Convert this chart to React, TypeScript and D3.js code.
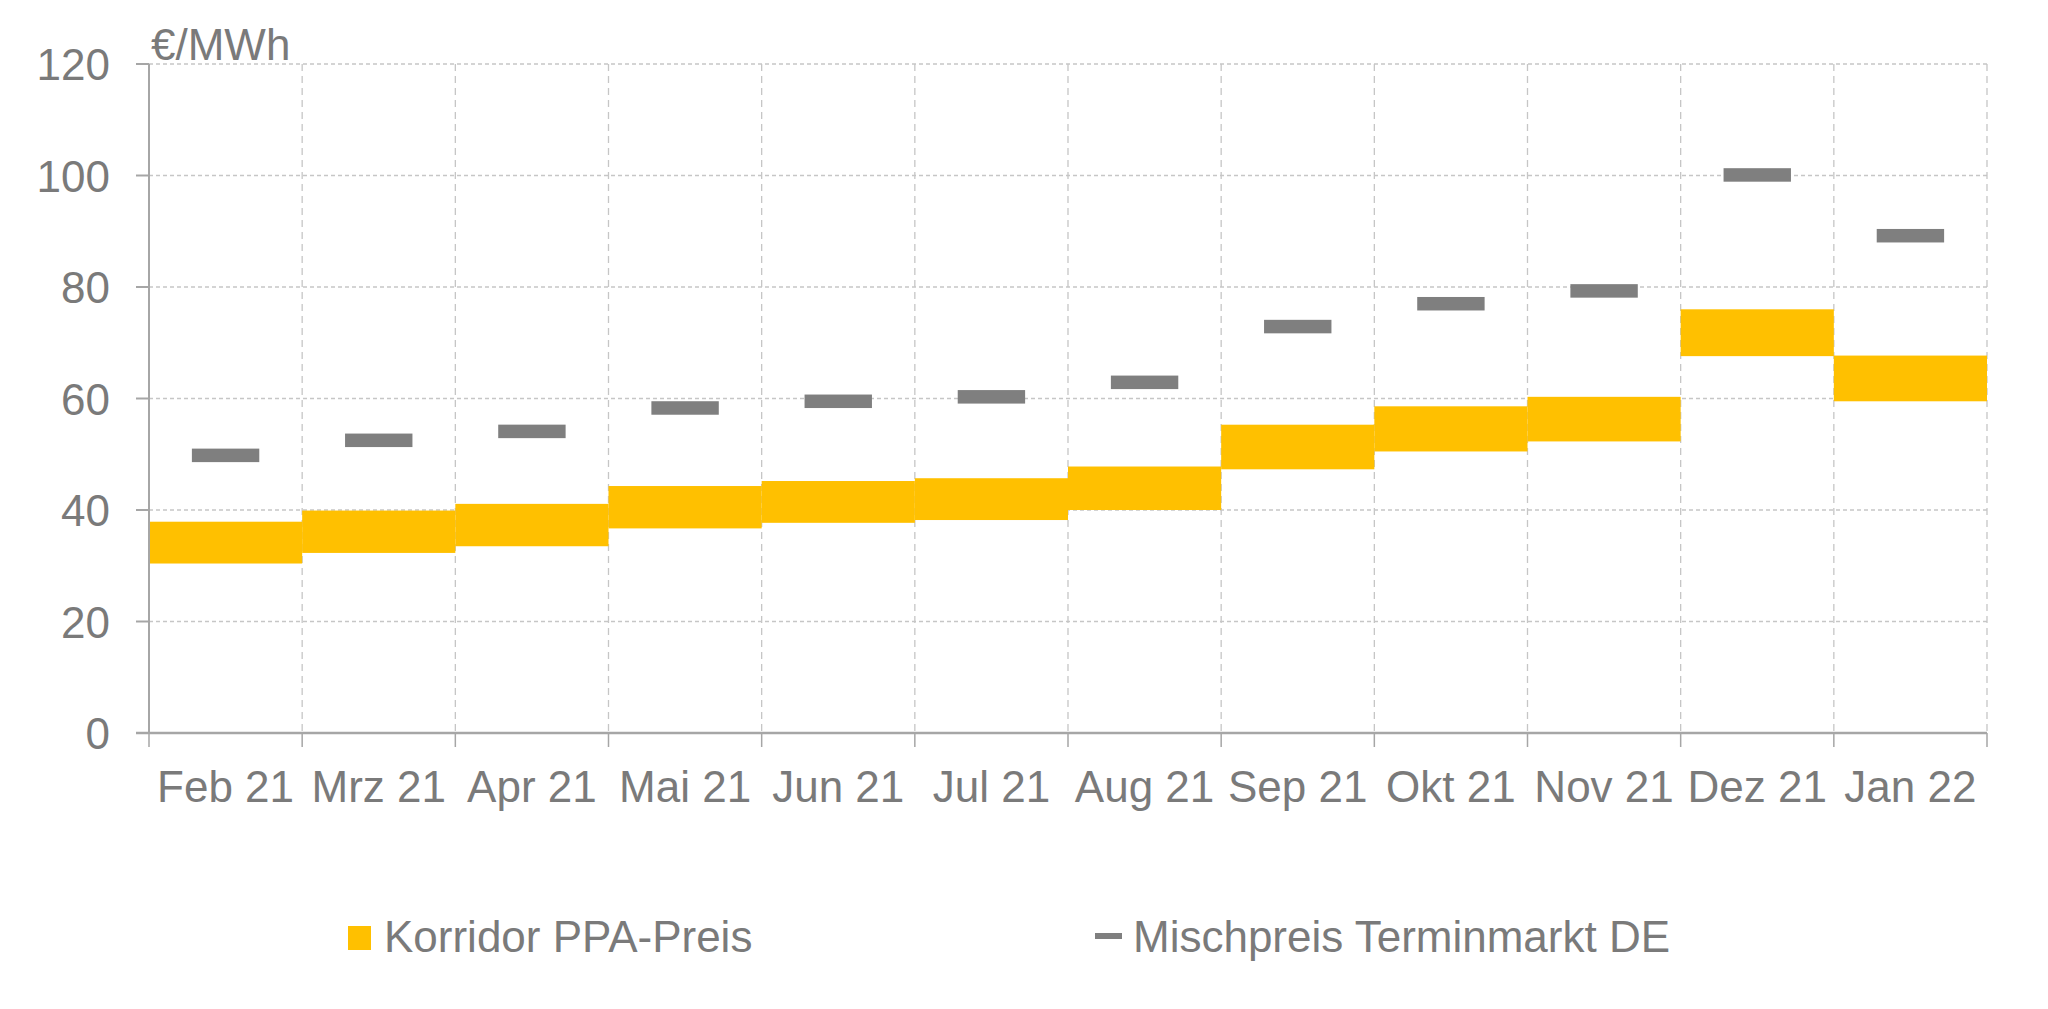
import * as d3 from "d3";

// ---------------------------------------------------------------------------
// Data (€/MWh)
// ---------------------------------------------------------------------------

const MONTHS = [
  "Feb 21",
  "Mrz 21",
  "Apr 21",
  "Mai 21",
  "Jun 21",
  "Jul 21",
  "Aug 21",
  "Sep 21",
  "Okt 21",
  "Nov 21",
  "Dez 21",
  "Jan 22",
];

// Korridor PPA-Preis: lower and upper bound per month
const PPA_LOW = [30.4, 32.3, 33.5, 36.7, 37.7, 38.2, 40.0, 47.3, 50.5, 52.3, 67.6, 59.5];
const PPA_HIGH = [37.9, 39.9, 41.1, 44.3, 45.2, 45.7, 47.8, 55.3, 58.6, 60.3, 76.0, 67.7];

// Mischpreis Terminmarkt DE
const MISCHPREIS = [49.8, 52.5, 54.1, 58.3, 59.5, 60.3, 62.9, 72.9, 77.0, 79.3, 100.1, 89.2];

const Y_TICKS = [0, 20, 40, 60, 80, 100, 120];

const LEGEND = [
  { label: "Korridor PPA-Preis", kind: "box" },
  { label: "Mischpreis Terminmarkt DE", kind: "dash" },
];

// ---------------------------------------------------------------------------
// Styling
// ---------------------------------------------------------------------------

const YELLOW = "#ffc000";
const MARKER = "#7f7f7f";
const TEXT = "#7a7a7a";
const GRID = "#c6c6c6";
const AXIS = "#a6a6a6";
const FONT = "'Liberation Sans', Arial, sans-serif";

const WIDTH = 2048;
const HEIGHT = 1009;
const LEFT = 149;
const RIGHT = 1987;
const TOP = 64;
const BOTTOM = 733;

export default function App() {
  const x = d3.scaleBand<string>().domain(MONTHS).range([LEFT, RIGHT]);
  const y = d3.scaleLinear().domain([0, 120]).range([BOTTOM, TOP]);
  const bw = x.bandwidth();
  const markerW = bw * 0.44;
  const markerH = 13.5;

  const boundaries = [...MONTHS.map((m) => x(m)!), RIGHT];

  return (
    <svg
      width={WIDTH}
      height={HEIGHT}
      style={{ position: "absolute", left: 0, top: 0, background: "#fff" }}
      fontFamily={FONT}
    >
      {/* horizontal grid */}
      {Y_TICKS.filter((t) => t > 0).map((t) => (
        <line
          key={`hg${t}`}
          x1={LEFT}
          x2={RIGHT}
          y1={y(t)}
          y2={y(t)}
          stroke={GRID}
          strokeWidth={1.3}
          strokeDasharray="4,3"
        />
      ))}

      {/* vertical grid at band boundaries */}
      {boundaries.slice(1).map((bx, i) => (
        <line
          key={`vg${i}`}
          x1={bx}
          x2={bx}
          y1={TOP}
          y2={BOTTOM}
          stroke={GRID}
          strokeWidth={1.3}
          strokeDasharray="7,5"
        />
      ))}

      {/* PPA corridor */}
      {MONTHS.map((m, i) => (
        <rect
          key={`ppa${m}`}
          x={x(m)}
          y={y(PPA_HIGH[i])}
          width={bw}
          height={y(PPA_LOW[i]) - y(PPA_HIGH[i])}
          fill={YELLOW}
        />
      ))}

      {/* Mischpreis markers */}
      {MONTHS.map((m, i) => (
        <rect
          key={`mp${m}`}
          x={x(m)! + bw / 2 - markerW / 2}
          y={y(MISCHPREIS[i]) - markerH / 2}
          width={markerW}
          height={markerH}
          fill={MARKER}
        />
      ))}

      {/* y axis */}
      <line x1={LEFT} x2={LEFT} y1={TOP} y2={BOTTOM} stroke={AXIS} strokeWidth={2} />
      {Y_TICKS.map((t) => (
        <g key={`yt${t}`}>
          <line x1={LEFT - 13} x2={LEFT} y1={y(t)} y2={y(t)} stroke={AXIS} strokeWidth={2} />
          <text
            x={110}
            y={y(t) + 16}
            textAnchor="end"
            fontSize={44}
            fill={TEXT}
          >
            {t}
          </text>
        </g>
      ))}

      {/* x axis */}
      <line x1={LEFT - 13} x2={RIGHT} y1={BOTTOM} y2={BOTTOM} stroke={AXIS} strokeWidth={2.5} />
      {boundaries.map((bx, i) => (
        <line
          key={`xt${i}`}
          x1={bx}
          x2={bx}
          y1={BOTTOM}
          y2={BOTTOM + 14}
          stroke={AXIS}
          strokeWidth={1.5}
        />
      ))}
      {MONTHS.map((m) => (
        <text
          key={`xl${m}`}
          x={x(m)! + bw / 2}
          y={802}
          textAnchor="middle"
          fontSize={44}
          fill={TEXT}
        >
          {m}
        </text>
      ))}

      {/* unit label */}
      <text x={151} y={60} fontSize={44} fill={TEXT}>
        €/MWh
      </text>

      {/* legend */}
      <g>
        <rect x={348} y={926} width={23} height={24} fill={YELLOW} />
        <text x={384} y={952} fontSize={44} fill={TEXT}>
          {LEGEND[0].label}
        </text>
        <rect x={1095} y={933} width={27} height={6} fill={MARKER} />
        <text x={1133} y={952} fontSize={44} fill={TEXT}>
          {LEGEND[1].label}
        </text>
      </g>
    </svg>
  );
}
